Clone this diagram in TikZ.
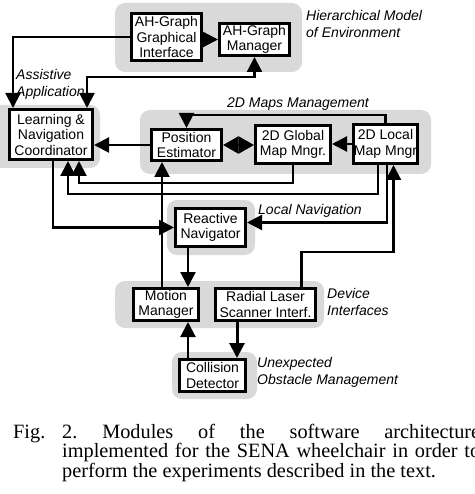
\documentclass[tikz,border=0pt]{standalone}
\usepackage{fontspec}
\setmainfont{Liberation Sans}
\newfontfamily\capfont{Liberation Serif}
\usetikzlibrary{arrows.meta,calc}
\begin{document}
\begin{tikzpicture}[x=1pt,y=-1pt,
  box/.style={draw,line width=2.8pt,fill=white,align=center,inner sep=0pt,font=\fontsize{14}{15.5}\selectfont},
  lab/.style={anchor=west,align=left,inner sep=0pt,font=\fontsize{14}{17}\selectfont\itshape},
  grp/.style={fill=black!15,rounded corners=10pt},
  arr/.style={line width=2.2pt,-{Triangle[length=15pt,width=15pt]}},
  arrtwo/.style={line width=2.2pt,{Triangle[length=15pt,width=15pt]}-{Triangle[length=15pt,width=15pt]}},
  dia/.style={line width=2.2pt,{Triangle[length=15.5pt,width=17pt]}-{Triangle[length=15.5pt,width=17pt]}}]
\useasboundingbox (0,0) rectangle (474,494);
\clip (0,0) rectangle (474,494);
\fill[white] (0,0) rectangle (474,494);
% groups
\fill[grp] (115,3) rectangle (302,72);
\fill[grp] (-12,105) rectangle (100,168);
\fill[grp] (140,110) rectangle (431,174);
\fill[grp] (167,200) rectangle (255,255);
\fill[grp] (115,281) rectangle (324,328);
\fill[grp] (172,352) rectangle (257,399);
% group labels
\node[lab] (hier) at (306,23.5) {Hierarchical Model\\of Environment};
\node[lab] (assist) at (16,84) {Assistive\\Application};
\node[lab] (maps) at (227,104) {2D Maps Management};
\node[lab] (locnav) at (258,211) {Local Navigation};
\node[lab] (dev) at (327,301.5) {Device\\Interfaces};
\node[lab] (unexp) at (257,372.5) {Unexpected\\Obstacle Management};
% boxes
\node[box,minimum width=70.2pt,minimum height=47.2pt] (gi) at (166.5,37) {AH-Graph\\Graphical\\Interface};
\node[box,minimum width=70.2pt,minimum height=32.2pt] (mgr) at (254.5,39.5) {AH-Graph\\Manager};
\node[box,minimum width=83.2pt,minimum height=50.2pt] (lnc) at (51,134.5) {Learning \&\\Navigation\\Coordinator};
\node[box,minimum width=70.2pt,minimum height=31.2pt] (pe) at (186.5,145) {Position\\Estimator};
\node[box,minimum width=75.2pt,minimum height=38.2pt] (glob) at (293,144.5) {2D Global\\Map Mngr.};
\node[box,minimum width=64.2pt,minimum height=39.2pt] (loc) at (385.5,144) {2D Local\\Map Mngr};
\node[box,minimum width=70.2pt,minimum height=38.2pt] (rn) at (210.5,227.5) {Reactive\\Navigator};
\node[box,minimum width=65.2pt,minimum height=32.2pt] (mm) at (166,304.5) {Motion\\Manager};
\node[box,minimum width=100.2pt,minimum height=32.2pt] (rl) at (265.5,304.5) {Radial Laser\\Scanner Interf.};
\node[box,minimum width=66.2pt,minimum height=32.2pt] (cd) at (212.5,375.5) {Collision\\Detector};
% connectors
\draw[arr] (mgr.west -| gi.east) -- (mgr.west);
\draw[arr] (gi.west) -| ([xshift=5pt]lnc.north west);
\draw[arrtwo] ([xshift=-7pt]lnc.north east) -- ++(0,-31) -| (mgr.south);
\draw[arr] (pe.west) -- (pe.west -| lnc.east);
\draw[dia] (pe.east) -- (pe.east -| glob.west);
\draw[arr] (loc.west) -- (loc.west -| glob.east);
\draw[arr] (loc.north) -- ++(0,-8) -| (pe.north);
\draw[arr] (glob.south) -- ++(0,18) -| ([xshift=-15pt]lnc.south east);
\draw[arr] ([xshift=-7.5pt]loc.south) -- ++(0,29) -| ([xshift=-26pt]lnc.south east);
\draw[arr] ([xshift=1.5pt]loc.south) |- ([yshift=5pt]rn.east);
\draw[arr] ([xshift=36pt]rl.north) -- ++(0,-35) -| ([xshift=8pt]loc.south);
\draw[arr] ([xshift=2pt]lnc.south) |- (rn.west);
\draw[arr] ([xshift=-4pt]mm.north) -- ([xshift=-4pt]mm.north |- pe.south);
\draw[arr] ([xshift=22pt]mm.north |- rn.south) -- ([xshift=22pt]mm.north);
\draw[arr] ([xshift=-24.5pt]cd.north) -- ([xshift=-24.5pt]cd.north |- mm.south);
\draw[arr,line width=3pt] ([xshift=-28.5pt]rl.south) -- ([xshift=-28.5pt]rl.south |- cd.north);
% caption
\node[anchor=base west,inner sep=0pt] (cap) at (13,438) {\parbox[t]{467pt}{\capfont\fontsize{20.3}{18}\selectfont\frenchspacing
  \tolerance=10000\hangindent=49pt\hangafter=1\noindent\makebox[49pt][l]{Fig.}2. Modules of the software architecture\linebreak
  implemented for the SENA wheelchair in order to\linebreak
  perform the experiments described in the text.}};
\end{tikzpicture}
\end{document}
